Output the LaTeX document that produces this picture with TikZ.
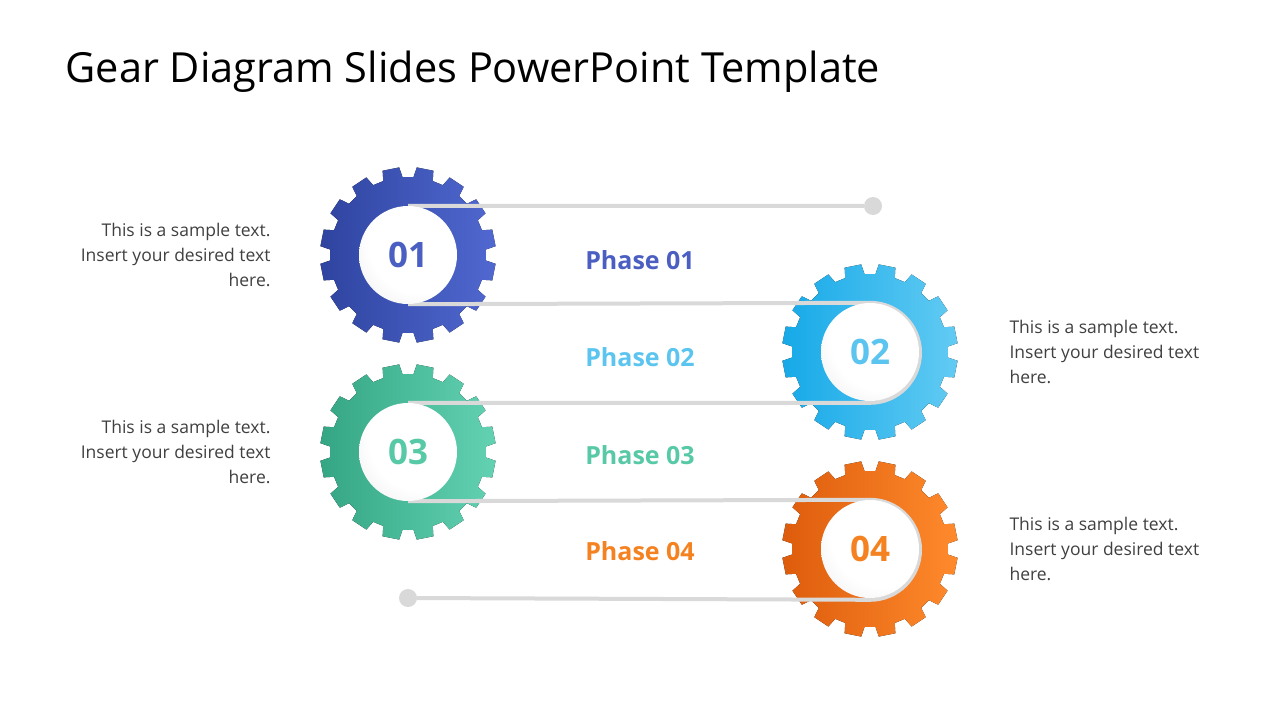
\documentclass[tikz,border=0pt]{standalone}
\usepackage{fontspec}
\setmainfont{Open Sans}
\usepackage{tikz}
\usetikzlibrary{calc}

\definecolor{gearA1}{HTML}{2F44A0}
\definecolor{gearA2}{HTML}{5068D0}
\definecolor{gearB1}{HTML}{16A9E8}
\definecolor{gearB2}{HTML}{62CBF3}
\definecolor{gearC1}{HTML}{35A684}
\definecolor{gearC2}{HTML}{62D2B2}
\definecolor{gearD1}{HTML}{DD5C0C}
\definecolor{gearD2}{HTML}{FF8A2C}
\definecolor{phaseA}{HTML}{4A5FC1}
\definecolor{phaseB}{HTML}{5BC5F0}
\definecolor{phaseC}{HTML}{58C9A6}
\definecolor{phaseD}{HTML}{F58220}
\definecolor{beltgray}{HTML}{D9D9D9}
\definecolor{bodytext}{HTML}{404040}

\pgfdeclarelayer{paper}
\pgfdeclarelayer{gears}
\pgfdeclarelayer{belt}
\pgfsetlayers{paper,gears,belt,main}

\pgfdeclareradialshading{hubshade}{\pgfpoint{9bp}{9bp}}{%
  color(0bp)=(white); color(26bp)=(white); color(44bp)=(black!8);
  color(56bp)=(black!20); color(64bp)=(black!26); color(90bp)=(black!26)}

\tikzset{
  belt/.style={draw=beltgray, line width=4pt},
  hub/.style={circle, minimum size=98pt, inner sep=0pt, shading=hubshade,
    font=\fontsize{35}{35}\selectfont\bfseries},
  beltend/.style={circle, fill=beltgray, minimum size=18pt, inner sep=0pt},
  phase/.style={font=\fontsize{25}{25}\selectfont\bfseries},
  note/.style={text=bodytext, font=\fontsize{17.5}{25}\selectfont},
}

% one gear: centre, left colour, right colour
\newcommand{\gearshape}[3]{%
\begin{pgfonlayer}{gears}
\fill[left color=#2, right color=#3, shift={#1}] (4:78)
  \foreach \k in {0,...,15} {
    -- ({\k*22.5+4}:78) -- ({\k*22.5+5.75}:88) -- ({\k*22.5+16.75}:88) -- ({\k*22.5+18.5}:78)
  } -- cycle;
\end{pgfonlayer}}

\begin{document}
\begin{tikzpicture}[x=1pt, y=-1pt]
\useasboundingbox (0,0) rectangle (1280,720);
\begin{pgfonlayer}{paper}
\fill[white] (0,0) rectangle (1280,720);
\end{pgfonlayer}

\node[anchor=base west, font=\fontsize{41.5}{41.5}\selectfont] (title) at (62,82) {Gear Diagram Slides PowerPoint Template};

\gearshape{(408,255)}{gearA1}{gearA2}
\gearshape{(870,352)}{gearB1}{gearB2}
\gearshape{(408,452)}{gearC1}{gearC2}
\gearshape{(870,549)}{gearD1}{gearD2}

\node[hub, text=phaseA] (h1) at (408,255) {01};
\node[hub, text=phaseB] (h2) at (870,352) {02};
\node[hub, text=phaseC] (h3) at (408,452) {03};
\node[hub, text=phaseD] (h4) at (870,549) {04};

\node[beltend] (e1) at (873,206) {};
\node[beltend] (e2) at (408,598) {};

\begin{pgfonlayer}{belt}
\draw[belt] (e1) -- (h1.north);
\draw[belt] (h1.south) -- (h2.north) arc[start angle=-90, end angle=90, radius=50] -- (h3.north);
\draw[belt] (h3.south) -- (h4.north) arc[start angle=-90, end angle=90, radius=50] -- (e2);
\end{pgfonlayer}

\node[phase, text=phaseA] (p1) at (640,260) {Phase 01};
\node[phase, text=phaseB] (p2) at (640,357) {Phase 02};
\node[phase, text=phaseC] (p3) at (640,455) {Phase 03};
\node[phase, text=phaseD] (p4) at (640,551) {Phase 04};

\node[note, anchor=east, align=right] (n1) at (274,255) {This is a sample text.\\Insert your desired text\\here.};
\node[note, anchor=east, align=right] (n3) at (274,452) {This is a sample text.\\Insert your desired text\\here.};
\node[note, anchor=west, align=left] (n2) at (1006,352) {This is a sample text.\\Insert your desired text\\here.};
\node[note, anchor=west, align=left] (n4) at (1006,549) {This is a sample text.\\Insert your desired text\\here.};
\end{tikzpicture}
\end{document}
